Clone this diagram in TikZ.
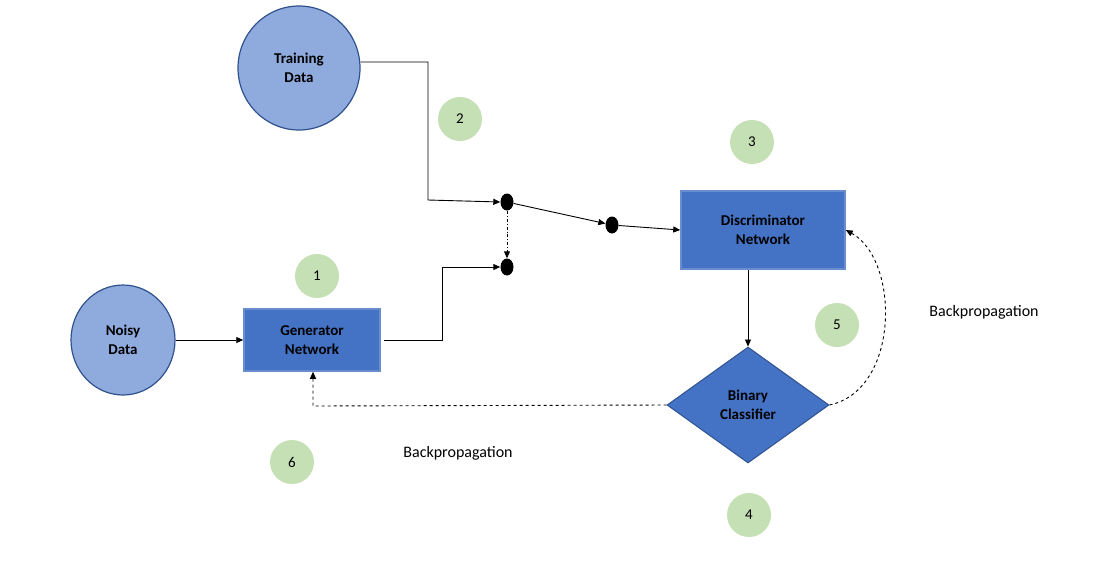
\documentclass[tikz,border=0pt]{standalone}
\usepackage{fontspec}
\setmainfont{Carlito}
\usetikzlibrary{shapes.geometric,arrows.meta}
\definecolor{circfill}{HTML}{8FAADC}
\definecolor{circline}{HTML}{2F528F}
\definecolor{boxfill}{HTML}{4472C4}
\definecolor{numfill}{HTML}{C5E0B4}
\begin{document}
\begin{tikzpicture}[x=1pt,y=-1pt,
  data/.style={ellipse,fill=circfill,draw=circline,line width=1.2pt,font=\bfseries\fontsize{15}{19}\selectfont,align=center,inner sep=0pt},
  box/.style={rectangle,fill=boxfill,draw=boxfill!80,line width=1.5pt,font=\bfseries\fontsize{15}{19}\selectfont,align=center,inner sep=0pt},
  num/.style={circle,fill=numfill,minimum size=44pt,inner sep=0pt,font=\fontsize{15}{18}\selectfont},
  dot/.style={ellipse,fill=black,minimum width=13pt,minimum height=17pt,inner sep=0pt},
  lbl/.style={font=\fontsize{16}{19}\selectfont},
  arr/.style={-{Triangle[length=7pt,width=6pt]},line width=0.9pt}]
\useasboundingbox (0,0) rectangle (1100,566);
\node[data,minimum width=122pt,minimum height=124pt] (train) at (299,68) {Training\\Data};
\node[data,minimum width=104pt,minimum height=110pt] (noisy) at (123,340) {Noisy\\Data};
\node[box,minimum width=136pt,minimum height=62pt] (gen) at (312,340) {Generator\\Network};
\node[box,minimum width=164pt,minimum height=78pt] (disc) at (763,230) {Discriminator\\Network};
\node[diamond,fill=boxfill,draw=circline,line width=1pt,minimum width=162pt,minimum height=116pt,aspect=1.4,inner sep=0pt,font=\bfseries\fontsize{15}{19}\selectfont,align=center] (bin) at (748,405) {Binary\\Classifier};
\node[dot] (d1) at (507,202) {};
\node[dot] (d2) at (612,225) {};
\node[dot] (d3) at (507,267) {};
\node[num] (n1) at (317,276) {1};
\node[num] (n2) at (460,119) {2};
\node[num] (n3) at (752,142) {3};
\node[num] (n4) at (749,515) {4};
\node[num] (n5) at (837,325) {5};
\node[num] (n6) at (292,462) {6};
\node[lbl] (bp1) at (984,312) {Backpropagation};
\node[lbl] (bp2) at (458,453) {Backpropagation};
\coordinate (c1) at (428,62);
\coordinate (c2) at (428,200);
\coordinate (c3) at (442,340);
\coordinate (c4) at (442,267);
\coordinate (c5) at (313,406);
\draw[arr] (train.east |- c1) -- (c1) -- (c2) -- (d1.west);
\draw[arr] (d1) -- (d2);
\draw[arr] (d2) -- (disc.west);
\draw[arr,dash dot] (d1.south) -- (d3.north);
\draw[arr] (gen.east) ++(3,0) -- (c3) -- (c4) -- (d3.west);
\draw[arr] (noisy.east) -- (gen.west);
\draw[arr] (disc.south -| bin.north) -- (bin.north);
\draw[arr,dashed] (bin.west) -- (c5) -- (gen.south -| c5);
\draw[arr,dashed] (bin.east) .. controls (900,390) and (900,260) .. (disc.east);
\end{tikzpicture}
\end{document}
